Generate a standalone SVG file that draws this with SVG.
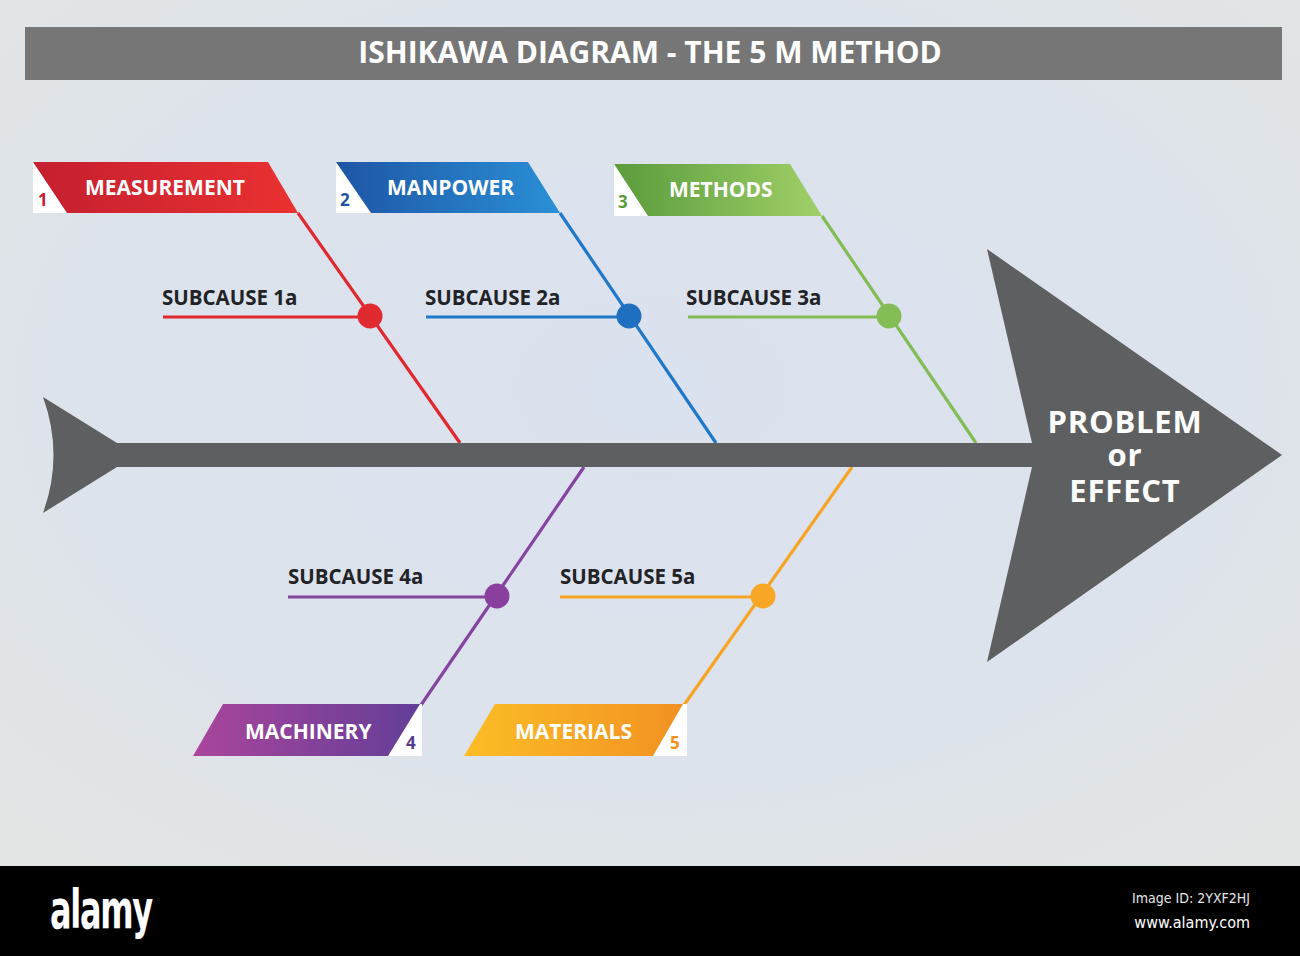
<svg xmlns="http://www.w3.org/2000/svg" width="1300" height="956" viewBox="0 0 1300 956">
<style>
.cap{font-family:"Open Sans","Noto Sans","Liberation Sans",sans-serif;font-weight:700;fill:#ffffff;font-size:21px}
.num{font-family:"Open Sans","Noto Sans","Liberation Sans",sans-serif;font-weight:700;font-size:17px}
.sub{font-family:"Open Sans","Noto Sans","Liberation Sans",sans-serif;font-weight:700;fill:#222326;font-size:20.5px}
.eff{font-family:"Open Sans","Noto Sans","Liberation Sans",sans-serif;font-weight:700;fill:#ffffff;font-size:31px;letter-spacing:0.8px;text-anchor:middle}
.bone{fill:none;stroke-width:3.2;stroke-linecap:butt}
</style>
<defs>
<radialGradient id="bg" cx="0.5" cy="0.45" r="0.7">
<stop offset="0" stop-color="#dbe2ef"/>
<stop offset="0.6" stop-color="#dde3ec"/>
<stop offset="1" stop-color="#e2e5e4"/>
</radialGradient>
<linearGradient id="gRed" x1="0" y1="0" x2="1" y2="0"><stop offset="0" stop-color="#c51f30"/><stop offset="1" stop-color="#ea3131"/></linearGradient>
<linearGradient id="gBlue" x1="0" y1="0" x2="1" y2="0"><stop offset="0" stop-color="#1e55a5"/><stop offset="1" stop-color="#2a90d6"/></linearGradient>
<linearGradient id="gGreen" x1="0" y1="0" x2="1" y2="0"><stop offset="0" stop-color="#5a9b3c"/><stop offset="1" stop-color="#a0cf68"/></linearGradient>
<linearGradient id="gPurple" x1="0" y1="0" x2="1" y2="0"><stop offset="0" stop-color="#ab459c"/><stop offset="1" stop-color="#633e98"/></linearGradient>
<linearGradient id="gOrange" x1="0" y1="0" x2="1" y2="0"><stop offset="0" stop-color="#fcbd26"/><stop offset="1" stop-color="#f29122"/></linearGradient>
</defs>

<rect x="0" y="0" width="1300" height="866" fill="url(#bg)"/>

<g id="title">
<rect x="25" y="27" width="1257" height="53" fill="#767676"/>
<text x="650" y="63" text-anchor="middle" style="font-family:'Open Sans','Noto Sans','Liberation Sans',sans-serif;font-weight:700;font-size:30px;fill:#ffffff">ISHIKAWA DIAGRAM - THE 5 M METHOD</text>
</g>

<g id="connectors">
<polyline class="bone" stroke="#e0282f" points="298,213 460,443"/>
<line class="bone" stroke="#e0282f" x1="163" y1="317" x2="370" y2="317"/>
<polyline class="bone" stroke="#1f78c8" points="560,213 716,443"/>
<line class="bone" stroke="#1f78c8" x1="426" y1="317" x2="629" y2="317"/>
<polyline class="bone" stroke="#82bc55" points="822,216 976,443"/>
<line class="bone" stroke="#82bc55" x1="688" y1="317" x2="889" y2="317"/>
<polyline class="bone" stroke="#8444a0" points="584,467 421,705"/>
<line class="bone" stroke="#8444a0" x1="288" y1="597" x2="497" y2="597"/>
<polyline class="bone" stroke="#f6a523" points="852,467 684,705"/>
<line class="bone" stroke="#f6a523" x1="560" y1="597" x2="763" y2="597"/>
<circle cx="370" cy="316" r="12.5" fill="#df2a30"/>
<circle cx="629" cy="316" r="12.5" fill="#1f6fc0"/>
<circle cx="889" cy="316" r="12.5" fill="#84bd55"/>
<circle cx="497" cy="596" r="12.5" fill="#8a3f9e"/>
<circle cx="763" cy="596" r="12.5" fill="#f7a626"/>
</g>

<g id="effect">
<rect x="110" y="443" width="925" height="24" fill="#5e5f61"/>
<path d="M43,397 L117,443 L117,467 L43,513 Q64,455 43,397 Z" fill="#5e5f61"/>
<polygon points="987,249 1282,455 987,662 1032,467 1032,443" fill="#5e5f61"/>
<text class="eff" x="1125" y="433">PROBLEM</text>
<text class="eff" x="1125" y="466">or</text>
<text class="eff" x="1125" y="502">EFFECT</text>
</g>

<g id="subcause1a"><text class="sub" x="162" y="305">SUBCAUSE 1a</text></g>
<g id="subcause2a"><text class="sub" x="425" y="305">SUBCAUSE 2a</text></g>
<g id="subcause3a"><text class="sub" x="686" y="305">SUBCAUSE 3a</text></g>
<g id="subcause4a"><text class="sub" x="288" y="584">SUBCAUSE 4a</text></g>
<g id="subcause5a"><text class="sub" x="560" y="584">SUBCAUSE 5a</text></g>

<g id="measurement">
<rect x="33" y="162" width="36" height="51" fill="#ffffff"/>
<polygon points="33,162 268,162 298,213 67,213" fill="url(#gRed)"/>
<text class="num" x="38" y="206" fill="#c8202e">1</text>
<text class="cap" x="85" y="195">MEASUREMENT</text>
</g>

<g id="manpower">
<rect x="336" y="162" width="38" height="51" fill="#ffffff"/>
<polygon points="336,162 528,162 560,213 371,213" fill="url(#gBlue)"/>
<text class="num" x="340" y="206" fill="#1f55a5">2</text>
<text class="cap" x="387" y="195">MANPOWER</text>
</g>

<g id="methods">
<rect x="614" y="164" width="38" height="52" fill="#ffffff"/>
<polygon points="614,164 790,164 822,216 648,216" fill="url(#gGreen)"/>
<text class="num" x="618" y="208" fill="#5a9b3c">3</text>
<text class="cap" x="669" y="197">METHODS</text>
</g>

<g id="machinery">
<rect x="384" y="704" width="38" height="52" fill="#ffffff"/>
<polygon points="223,704 420,704 388,756 193,756" fill="url(#gPurple)"/>
<text class="num" x="406" y="749" fill="#5b3a8c">4</text>
<text class="cap" x="245" y="739">MACHINERY</text>
</g>

<g id="materials">
<rect x="650" y="704" width="37" height="52" fill="#ffffff"/>
<polygon points="495,704 683,704 653,756 464,756" fill="url(#gOrange)"/>
<text class="num" x="670" y="749" fill="#f29122">5</text>
<text class="cap" x="515" y="739">MATERIALS</text>
</g>

<g id="footer">
<rect x="0" y="866" width="1300" height="90" fill="#000000"/>
<text x="50" y="928" transform="translate(50,928) scale(0.64,1.05) translate(-50,-928)" style="font-family:'DejaVu Sans','Liberation Sans',sans-serif;font-weight:700;font-size:50px;fill:#ffffff;letter-spacing:-2px">alamy</text>
<text x="1250" y="903" text-anchor="end" style="font-family:'DejaVu Sans Condensed','Liberation Sans Narrow','Liberation Sans',sans-serif;font-size:14px;fill:#e6e6e6">Image ID: 2YXF2HJ</text>
<text x="1250" y="928" text-anchor="end" style="font-family:'DejaVu Sans Condensed','Liberation Sans Narrow','Liberation Sans',sans-serif;font-size:16px;fill:#ffffff">www.alamy.com</text>
</g>
</svg>
